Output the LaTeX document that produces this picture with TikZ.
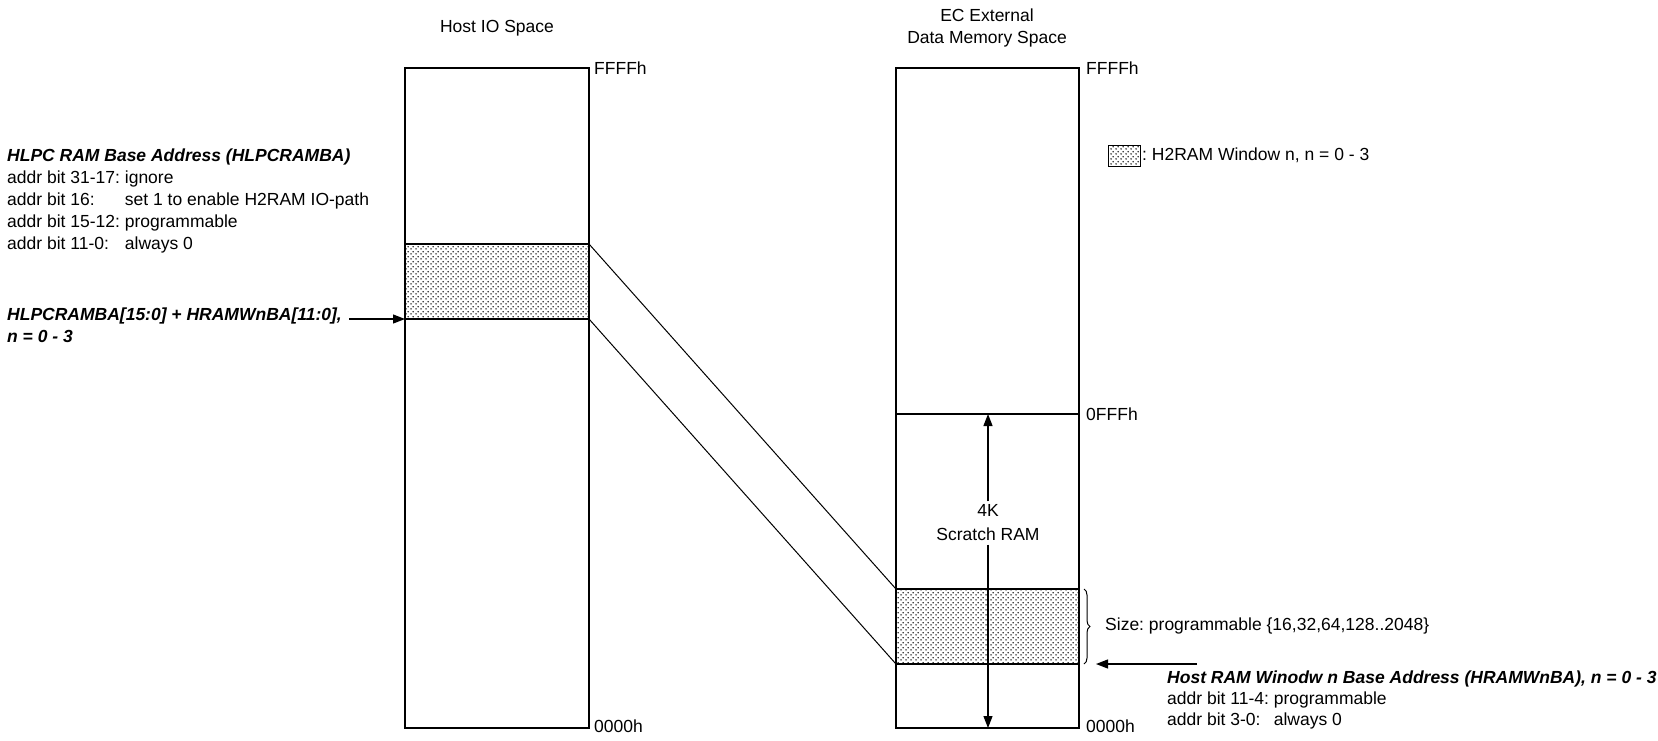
\documentclass[tikz,border=0pt]{standalone}
\usepackage{fontspec}
\setmainfont{Liberation Sans}
\frenchspacing
\usetikzlibrary{patterns.meta,arrows.meta,decorations.pathreplacing}
\tikzdeclarepattern{name=bigdots,
  parameters={},
  bounding box={(0,0) and (5pt,5pt)},
  tile size={(5pt,5pt)},
  code={\fill (1.25pt,1.25pt) circle (0.9pt); \fill (3.75pt,3.75pt) circle (0.9pt);}}
\newlength{\tabA}\settowidth{\tabA}{\fontsize{17.5}{21}\selectfont addr bit 31-17:\ }
\newlength{\tabB}\settowidth{\tabB}{\fontsize{17.5}{21}\selectfont addr bit 11-4:\ }
\begin{document}
\begin{tikzpicture}[x=1pt,y=-1pt,font=\fontsize{17.5}{21}\selectfont,
  mem/.style={draw,line width=1.4pt},
  win/.style={draw,line width=1.4pt,pattern=bigdots,pattern color=black},
  lbl/.style={inner sep=0pt,anchor=west},
  arr/.style={-{Triangle[length=12pt,width=9pt]},line width=1.2pt}]
\useasboundingbox (0,0) rectangle (1658,740);
% left box
\draw[mem] (405,68) rectangle (589,728);
\draw[win] (405,244) rectangle (589,319);
\coordinate (l1) at (589,244); \coordinate (l2) at (589,319); \coordinate (lin) at (405,319);
% right box
\draw[mem] (896,68) rectangle (1079,728);
\draw[mem] (896,414) -- (1079,414);
\draw[win] (896,589) rectangle (1079,664);
\coordinate (r1) at (896,589); \coordinate (r2) at (896,664);
\draw[line width=1pt] (l1) -- (r1) (l2) -- (r2);
% titles
\node (t1) at (497,28) {Host IO Space};
\node[align=center,font=\fontsize{17.5}{22}\selectfont] (t2) at (987,28) {EC External\\Data Memory Space};
\node[lbl] (f1) at (594,68) {FFFFh};
\node[lbl] (f0) at (594,726) {0000h};
\node[lbl] (g1) at (1086,68) {FFFFh};
\node[lbl] (g2) at (1086,414) {0FFFh};
\node[lbl] (g0) at (1086,726) {0000h};
% scratch ram
\node[align=center,font=\fontsize{17.5}{24}\selectfont] (sr) at (988,523) {4K\\Scratch RAM};
\coordinate (st) at (988,414); \coordinate (sb) at (988,728);
\draw[arr] (sr.north) -- (st);
\draw[arr] (sr.south) -- (sb);
% legend
\draw[win,line width=1pt] (1108,145) rectangle (1140,166);
\node[lbl] (lg) at (1142,155) {: H2RAM Window n, n = 0 - 3};
% left texts
\node[lbl,align=left,anchor=north west,font=\fontsize{17.5}{22}\selectfont] (ltxt) at (7,149)
 {\textbf{\textit{HLPC RAM Base Address (HLPCRAMBA)}}\\
  \makebox[\tabA][l]{addr bit 31-17:}ignore\\
  \makebox[\tabA][l]{addr bit 16:}set 1 to enable H2RAM IO-path\\
  \makebox[\tabA][l]{addr bit 15-12:}programmable\\
  \makebox[\tabA][l]{addr bit 11-0:}always 0};
\node[lbl,align=left,anchor=north west,font=\bfseries\itshape\fontsize{17.5}{22}\selectfont] (ltx2) at (7,308)
 {HLPCRAMBA[15:0] + HRAMWnBA[11:0],\\n = 0 - 3};
\coordinate (la) at (349,319);
\draw[arr] (la) -- (lin);
% right bottom
\draw[decorate,decoration={brace,amplitude=6pt},line width=1pt] (1084,589) -- (1084,664);
\node[lbl] (sz) at (1105,626) {Size: programmable \{16,32,64,128..2048\}};
\coordinate (ra) at (1197,664); \coordinate (rt) at (1096,664);
\draw[arr] (ra) -- (rt);
\node[lbl,align=left,anchor=north west,font=\fontsize{17.5}{21}\selectfont] (rtxt) at (1167,671)
 {\textbf{\textit{Host RAM Winodw n Base Address (HRAMWnBA), n = 0 - 3}}\\
  \makebox[\tabB][l]{addr bit 11-4:}programmable\\
  \makebox[\tabB][l]{addr bit 3-0:}always 0};
\end{tikzpicture}
\end{document}
